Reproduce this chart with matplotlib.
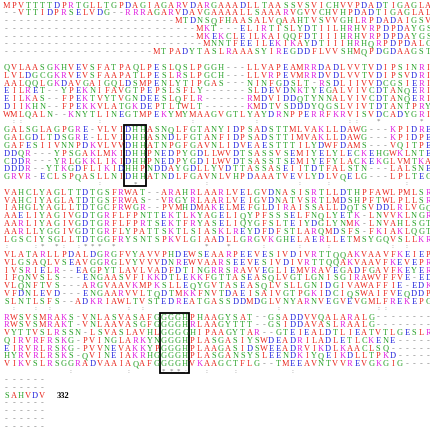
import matplotlib
matplotlib.use("Agg")
import matplotlib.pyplot as plt
from matplotlib.patches import Rectangle

W = 60
blocks = [
 ["MPVTTTTDPRTGLLTGPDAGIAGARVDARGAAADLLTAASSVSVICHVVPDADTIGAGLALA",
  "--VTTIDPRSELVDG--RRRAGARVDAVGAAAALLSAAARVGVVCHVHPDADTIGAGLALA",
  "------------------------MTDNSQFHAASALVQAAHTVSVVGHLRPDADAIGSVAATV",
  "---------------------------MKT---ELIRTISLYDTIILHRHVRPDPDAYGSQGGLT",
  "---------------------------MKEKCLEILKAIQQFDTIIIHRHVRPDPDAYGSQGGLA",
  "----------------------------MNNTFEEILEKIKAYDTIIIHRHQRPDPDALGSQVGLI",
  "---------------------MTPADYTASLRAAASYIREGDDFLVVSHMQPDGDAAGSTFAVA"],
 ["QVLAASGKHVEVSFATPAQLPESLQSLPGGH---LLVAPEAMRRDADLVVTVDIPSINRI",
  "LVLDGCGKRVEVSFAAPATLPESLRSLPGCH---LLVRPEVMRRDVDLVVTVDIPSVDRI",
  "AALQQLGKDAVGAIGQLDSMPENLYTIPGAS---NINFGDSLT-RSDLIIVVDCGSIERI",
  "EILRET--YPEKNIFAVGTPEPSLSFLY------SLDEVDNKTYEGALVIVCDTANQERI",
  "EILKAS--FPEKTVYTVGNDEESLQFLR------RMDVIDDQTYNNALVIVCDTANQERI",
  "DIIKHN--FPEKKVLATGKDEPTLTWLT------KMDTVSDDDYQGSLVIVTDTANTPRY",
  "WMLQALN--KNYTLINEGTMPEKYMYMAAGVGTLYAYDRNPPERRFKRVISVDCADYGRI"],
 ["GALSGLAGPGRE-VLVIDHHASNQLFGTANYIDPSADSTTMLVAKLLDAWG---KPIDRE",
  "GALGDLTDSGRE-LLVIDHHASNDLFGTANFIDPSADSTTIMVAKLLDAWG---KPIDPE",
  "GAFESIIVNNPDKVLVVDHHATNPGFGAVNLIDVEAESTTTILYDWFDAMS---VQITPE",
  "DDQR---YPSGAKLMKIDHHPNEDPYGDLLWVDTSASSVSEMIYELYLECKEHGWKLNTE",
  "CDDR---YRLGKKLIKIDHHPNEDPYGDILWVDTSASSTSEMIYEFYLACKEKGLVMTKA",
  "DDDR--YTKGDFLIKIDHHPNDDAYGDLLYVDTTASSASEIITDTFALSTN---LALSNE",
  "GRVR-ECLSPQASLLNIDHHATNDLFGAVNLVHPDAAATVEVLYDLVQELG---LPLTEG"],
 ["VAHCLYAGLTTDTGSFRWAT--ARAHRLAARLVELGVDNASISRTLLDTHPFAWLPMLSR",
  "VAHCIYAGLATDTGSFRWAS--VRGYRLAARLVEIGVDNATVSRTLMDSHPFTWLPLLSR",
  "IAHGLYAGLLTDTGCFRWGR--PVMHDMAKELMEFGLDIRAISSALLDQTSVDDLRLVGQ",
  "AAELIYAGIVGDTGRFLFPNTTEKTLKYAGELIQYPFSSSELFNQLYETK-LNVVKLNGR",
  "AARLIYAGIVGDTGRFLFPRTSEKTFRYASELIQYGFSLTEIYDGLYNMK-LNVAHLSGT",
  "AARLLYGGIVGDTGRFLYPATTSKTLSIASKLREYDFDFSTLARQMDSFS-FKIAKLQGT",
  "LGSCIYSGLLTDTGGFRYSNTSPKVLGIAADLLGRGVKGHELAERLLETMSYGQVSLLKR"],
 ["VLATARLLPDALDGRGFVYAVVPHDEWSEAARPEEVESIVDIVRTTQQAKVAAVFKEIEPM",
  "VLGSAQLVSEAVGGRGLVYVVVDNREWVAARSEEVESIVDIVRTTQQAKVAAVFKEVEPR",
  "IVSRIELR--EAGPYTLAVLVADFDTINGRRSRAVVEGLIEMVRAVEGADFGAVFKEYERG",
  "IFQNVSLS---ENGAASVFIKKDTLEKKFGTTASEASQLVGTLGNISGIRAWVFFVE-EDE",
  "VLQNFTVS---ARGVAAVKMPKSLLEQYGVTASEASQLVSLLGNIDGIVAWAFFIE-EDK",
  "VFDNLEVD---ENGAARVVLTQDTMKKFNVTDAEISAIVGTPGKIDCIQSWAIFVEQDDP",
  "SLNTLSFS--ADKRIAWLTVSTEDREATGASSDDMDGLVNYARNVEGVEVGMLFREKEPG"],
 ["RWSVSMRAKS-VNLASVASAFGGGGHPHAAGYSAT--GSADDVVQALARALG--------",
  "RWSVSMRAKT-VNLAAVASGFGGGGHRLAAGYTTT--GSIDDAVASLRAALG--------",
  "VYTTVSLRSSN-LSVASLAVHLGGGGHIPAAGYTAR--GTEIEALDTLIEATVTLGESLRS",
  "QIRVRFRSKG-PVINGLARKYNGGGHPLASGASIYSWDEADRILADLETLCKENE-----",
  "EIRVRLRSKG-PVVNEVAKKYPGGGHPLAAGASIDSWEEADRVIKDLKAACLSQ------",
  "HYRVRLRSKS-QVINEIAKRHGGGGHPLASGANSYSLEENDKIYQEIKDLLTPKD-----",
  "VIKVSLRSGGRADVAAIAQAFGGGGHVKAAGCTFLG--TMEEAVNTVVREVGKGIG----"],
 ["------", "------", "SAHVDV", "------", "------", "------", "------"],
]
end_labels = {(6, 2): "332"}
boxes = [(2, 17, 20), (5, 22, 26)]  # block, first col, last col (exclusive)

colors = {}
for c in "AVFPMILW": colors[c] = "#e8251c"
for c in "DE": colors[c] = "#1d1ddb"
for c in "RK": colors[c] = "#e01ee0"
for c in "STYHCNGQ": colors[c] = "#27a127"
colors["-"] = "#8a8a8a"
groups = ["AVFPMILW", "DE", "RK", "STYHCNGQ"]

fig = plt.figure(figsize=(4.3, 4.3), dpi=100)
cw, rh, x0, y0, bh = 7.15, 7.8, 6.5, 5.5, 62.4

def put(x, y, s, col, size=6.0, weight="normal"):
    fig.text(x / 430, 1 - y / 430, s, color=col, ha="center", va="center",
             fontsize=size, family="Liberation Serif", fontweight=weight)

for b, rows in enumerate(blocks):
    rows = [(r + "-" * W)[:W] if len(r) > 6 else r for r in rows]
    for i, r in enumerate(rows):
        y = y0 + b * bh + i * rh
        for j, ch in enumerate(r):
            put(x0 + j * cw, y, ch, colors.get(ch, "black"))
        if (b, i) in end_labels:
            fig.text(57 / 430, 1 - y / 430, end_labels[(b, i)], color="black",
                     ha="left", va="center", fontsize=6.0, family="Liberation Serif",
                     fontweight="bold")
    if b < 6:
        y = y0 + b * bh + 7 * rh - 1
        for j in range(W):
            col = [r[j] for r in rows]
            if "-" in col:
                continue
            if len(set(col)) == 1:
                s = "*"
            elif any(all(c in g for c in col) for g in groups):
                s = ":"
            else:
                continue
            put(x0 + j * cw, y, s, "#777777", size=5.0)

for b, c0, c1 in boxes:
    x = x0 + (c0 - 0.5) * cw
    ytop = y0 + b * bh - 5
    h = 7 * rh + 6
    fig.patches.append(Rectangle((x / 430, 1 - (ytop + h) / 430), (c1 - c0) * cw / 430,
                                 h / 430, transform=fig.transFigure, fill=False,
                                 edgecolor="black", lw=1.3))

fig.savefig("out.png", dpi=100)
